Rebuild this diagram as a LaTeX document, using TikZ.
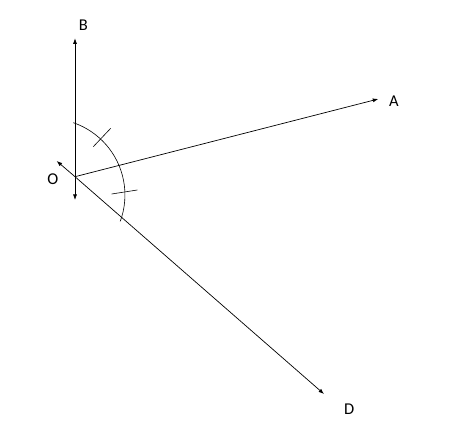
\documentclass[tikz,border=0pt]{standalone}
\usepackage{fontspec}
\setmainfont{Carlito}
\usetikzlibrary{arrows.meta}
\begin{document}
\begin{tikzpicture}[x=1pt,y=1pt,
  ray/.style={line width=0.7pt,-{Latex[length=5.5pt,width=4pt]}},
  thin line/.style={line width=0.6pt},
  lab/.style={font=\fontsize{16.5}{18}\selectfont,inner sep=0pt}]
\useasboundingbox (0,0) rectangle (450,444);
\coordinate (O) at (75,267.3);
\coordinate (Btip) at (75,405.7);
\coordinate (Dn) at (75,244);
\coordinate (Atip) at (378.3,345);
\coordinate (Dtip) at (324,50);
\coordinate (UL) at (56.7,283);
\coordinate (arcS) at (73.3,321.3);
\node[lab] (B) at (83.3,419) {B};
\node[lab] (A) at (393.8,343.2) {A};
\node[lab] (D) at (349.3,34.7) {D};
\node[lab] (Ol) at (52.8,264.7) {O};
\draw[ray] (O) -- (Btip);
\draw[ray] (O) -- (Dn);
\draw[ray] (O) -- (Atip);
\draw[ray] (O) -- (Dtip);
\draw[ray] (O) -- (UL);
\draw[thin line] (arcS) arc[start angle=71.1,end angle=-20.2,radius=76.4];
\coordinate (t1a) at (93.3,297.3);
\coordinate (t1b) at (110.7,315.7);
\coordinate (t2a) at (111.7,250);
\coordinate (t2b) at (137.3,254);
\draw[thin line] (t1a) -- (t1b);
\draw[thin line] (t2a) -- (t2b);
\end{tikzpicture}
\end{document}
